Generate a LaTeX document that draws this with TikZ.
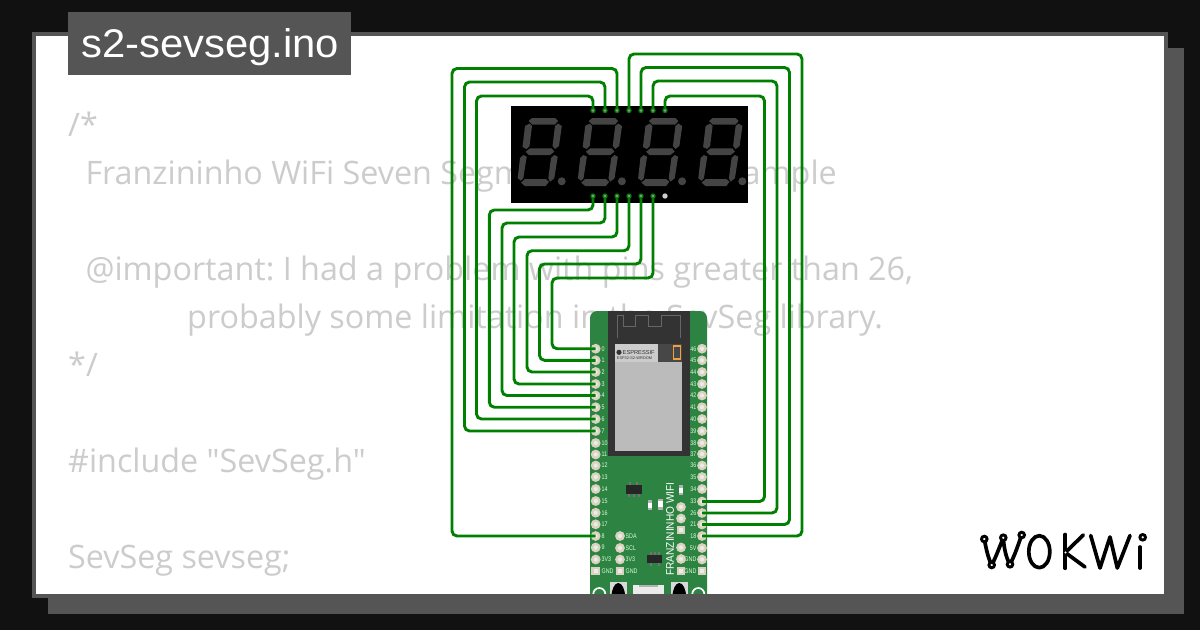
\documentclass[tikz,border=0pt]{standalone}
\usepackage{fontspec}
\setmainfont{Liberation Sans}
\newfontfamily\codefont{Open Sans}
\newfontfamily\titlefont{Liberation Sans}
\definecolor{bgdark}{HTML}{111111}
\definecolor{frameg}{HTML}{555555}
\definecolor{codeg}{HTML}{CCCCCC}
\definecolor{wirec}{HTML}{008000}
\definecolor{boardc}{HTML}{2D8342}
\definecolor{modc}{HTML}{333333}
\definecolor{shieldc}{HTML}{BBBBBB}
\definecolor{segc}{HTML}{444444}
\definecolor{ringc}{HTML}{D8D3BC}
\definecolor{orangec}{HTML}{F0A040}
\tikzset{
  x=1pt,y=-1pt,
  codeline/.style={anchor=base west,inner sep=0pt,text=codeg,font=\codefont\fontsize{32.3}{32}\selectfont\frenchspacing},
  wire/.style={draw=wirec,line width=2.9pt,rounded corners=5pt},
  hole/.style={circle,draw=ringc,line width=2.4pt,fill=white!92!black,minimum size=7.2pt,inner sep=0pt},
  sqhole/.style={rectangle,draw=ringc,line width=2.4pt,fill=white!92!black,minimum size=6.4pt,inner sep=0pt},
  lbl/.style={inner sep=0pt,text=white!85!green,font=\fontsize{6.7}{7}\selectfont},
  dpin/.style={circle,fill=#1,minimum size=5.4pt,inner sep=0pt},
  dpin/.default={wirec},
  pindot/.style={circle,fill=black!42,minimum size=2.8pt,inner sep=0pt},
  logo/.style={draw=black,line width=3.7pt,line cap=round,line join=round},
  lognode/.style={circle,draw=black,line width=2.9pt,fill=white,minimum size=5.6pt,inner sep=0pt},
  leg/.style={draw=black!55,line width=1.7pt},
}
\newcommand\lpin[3]{\node[hole] (#1) at (595.7,#2) {};\node[lbl,anchor=west] (t#1) at (601.4,#2) {\scalebox{0.8}[1]{#3}};}
\newcommand\rpin[3]{\node[hole] (#1) at (702,#2) {};\node[lbl,anchor=east] (t#1) at (696.6,#2) {\scalebox{0.8}[1]{#3}};}
\newcommand\capa[4]{\fill[black!30] (#1,#2) rectangle (#3,#4);\fill[white] (#1,#2+2.5) rectangle (#3,#4-2.5);}
\begin{document}
\begin{tikzpicture}
\useasboundingbox (0,0) rectangle (1200,630);
% background, shadow and frame
\fill[bgdark] (0,0) rectangle (1200,630);
\fill[frameg] (48,48) rectangle (1184,614);
\fill[frameg] (32,32) rectangle (1168,598);
\fill[white] (36,36) rectangle (1164,594);
% code
\node[codeline] (c1) at (68,136) {/*};
\node[codeline] (c2) at (85.3,184) {Franzininho WiFi Seven Segment Display\ \ Example};
\node[codeline] (c3) at (85.3,280) {@important: I had a problem with pins greater than 26,};
\node[codeline] (c4) at (187,328) {probably some limitation in the SevSeg library.};
\node[codeline] (c5) at (68,376) {*/};
\node[codeline] (c6) at (68,472) {\#include "SevSeg.h"};
\node[codeline] (c7) at (68,568) {SevSeg sevseg;};
% title
\fill[frameg] (68,12) rectangle (351,75);
\node[anchor=base west,inner sep=0pt,text=white,font=\titlefont\fontsize{40}{40}\selectfont] (title) at (81,57.5) {\scalebox{1.045}[1]{s2-sevseg.ino}};
% display
\fill[black] (510.5,106) rectangle (748,203);
\foreach \dx in {0,60.2,120.4,180.6}{
 \begin{scope}[shift={(\dx,0)},segc]
  \fill (528.5,121)--(532,118)--(555,118)--(558,121)--(555,124.5)--(532,124.5)--cycle;
  \fill (558,123.5)--(561.8,126)--(559,146)--(555,149)--(552.5,146)--(555,126)--cycle;
  \fill (529.5,123.5)--(532,126)--(529.5,146)--(526.5,149)--(522.5,147)--(525,126)--cycle;
  \fill (525.7,151.7)--(530,148.3)--(551.7,148.3)--(554.3,151.7)--(550,155)--(529,155)--cycle;
  \fill (554.3,155)--(557.7,156.7)--(554.3,178.3)--(550,181.7)--(548.3,178.3)--(551,158)--cycle;
  \fill (523.3,155)--(526.7,156.7)--(523.3,178.3)--(521,180.7)--(517.7,178.3)--(520,158)--cycle;
  \fill (521,182.7)--(525,179)--(545.7,179)--(549,181.7)--(545.7,186)--(525,186)--cycle;
  \fill (561.7,181.3) circle[radius=4];
 \end{scope}
}
\foreach \n/\px in {1/593,2/605,3/617,4/629,5/641,6/653,7/665}{
  \node[dpin] (T\n) at (\px,110.5) {};
}
\foreach \n/\px in {1/593,2/605,3/617,4/629,5/641,6/653}{
  \node[dpin] (B\n) at (\px,196) {};
}
\node[dpin=codeg] (B7) at (665,196) {};
% board
\fill[boardc,rounded corners=7pt] (590,311) rectangle (707,610);
\fill[modc] (608,311) rectangle (690,456);
\draw[black!60,line width=0.9pt,line join=miter] (617,338)--(617,315)--(623.5,315)--(623.5,326)--(635,326)--(635,315)--(648,315)--(648,326)--(661.5,326)--(661.5,315)--(680,315)--(680,338);
\fill[shieldc] (615,344) rectangle (682,451);
\fill[modc!90!white] (658,344) rectangle (682,361.5);
\fill[white!80!black] (615,344) rectangle (658,362);
\draw[orangec,line width=0.8pt] (673.5,346) rectangle (680.5,359);
\fill[orangec] (672.7,344.7) rectangle (681,347);
\fill[orangec] (672.7,357.5) rectangle (681,359.7);
\fill[modc] (619,352.3) circle[radius=2.6];
\node[anchor=west,inner sep=0pt,text=modc,font=\fontsize{5.7}{7}\selectfont] (espname) at (622.5,352.5) {ESPRESSIF};
\node[anchor=west,inner sep=0pt,text=modc,font=\fontsize{3.9}{5}\selectfont] (espmod) at (616.7,358.6) {ESP32-S2-WROOM};
% chips
\foreach \x in {630,637}{\draw[leg] (\x,482) -- (\x,486);}
\foreach \x in {629,634,639}{\draw[leg] (\x,493) -- (\x,497);}
\fill[black!85] (626,485) rectangle (642,494);
\foreach \x in {651,655,659}{\draw[leg] (\x,552) -- (\x,556);}
\foreach \x in {651,659}{\draw[leg] (\x,562) -- (\x,566);}
\fill[black!85] (647,555) rectangle (662,563);
\capa{648}{500}{652.3}{510}
\capa{658.3}{498.5}{663.3}{509.5}
\capa{678.7}{485}{683.3}{495}
\node[rotate=90,inner sep=0pt,text=white,font=\fontsize{11}{11}\selectfont] (brand) at (670,529) {\scalebox{0.92}[1]{FRANZININHO WIFI}};
% left pins
\lpin{L0}{348.7}{0}\lpin{L1}{360.3}{1}\lpin{L2}{372}{2}\lpin{L3}{384}{3}
\lpin{L4}{395.5}{4}\lpin{L5}{407.2}{5}\lpin{L6}{419}{6}\lpin{L7}{431}{7}
\lpin{L10}{443}{10}\lpin{L11}{454.5}{11}\lpin{L12}{465.5}{12}\lpin{L13}{477}{13}
\lpin{L14}{489}{14}\lpin{L15}{501}{15}\lpin{L16}{512.7}{16}\lpin{L17}{524.3}{17}
\lpin{L8}{536}{8}\lpin{L9}{547.5}{9}\lpin{L3V}{559.5}{3V3}
\node[sqhole] (LG) at (595.7,571) {};\node[lbl,anchor=west] (tLG) at (601.4,571) {\scalebox{0.8}[1]{GND}};
% right pins
\rpin{R46}{348.7}{46}\rpin{R45}{360.3}{45}\rpin{R44}{372}{44}\rpin{R43}{384}{43}
\rpin{R42}{395.5}{42}\rpin{R41}{407.2}{41}\rpin{R40}{419}{40}\rpin{R39}{431}{39}
\rpin{R38}{443}{38}\rpin{R37}{454}{37}\rpin{R36}{465.5}{36}\rpin{R35}{477}{35}
\rpin{R34}{489}{34}\rpin{R33}{501.5}{33}\rpin{R26}{513}{26}\rpin{R21}{524.5}{21}
\rpin{R18}{536}{18}\rpin{R5V}{548}{5V}\rpin{RG1}{559.5}{GND}
\node[sqhole] (RG2) at (702,571) {};\node[lbl,anchor=east] (tRG2) at (696.6,571) {\scalebox{0.8}[1]{GND}};
% inner pins
\node[hole] (M1) at (620,536) {};\node[lbl,anchor=west] (tM1) at (625.4,536) {\scalebox{0.8}[1]{SDA}};
\node[hole] (M2) at (620,548) {};\node[lbl,anchor=west] (tM2) at (625.4,548) {\scalebox{0.8}[1]{SCL}};
\node[hole] (M3) at (620,559.5) {};\node[lbl,anchor=west] (tM3) at (625.4,559.5) {\scalebox{0.8}[1]{3V3}};
\node[sqhole] (M4) at (620,571) {};\node[lbl,anchor=west] (tM4) at (625.4,571) {\scalebox{0.8}[1]{GND}};
\node[hole] (N1) at (681,507) {};
\node[hole] (N2) at (681,518.5) {};
\node[sqhole] (N3) at (681,530) {};
\node[hole] (N4) at (681,547.5) {};
\node[hole] (N5) at (681,559) {};
\node[sqhole] (N6) at (681,571) {};
% buttons, usb and mounting holes
\fill[black!15] (610,582) rectangle (626.7,600);
\fill[black] (618.3,597) ellipse[x radius=6.8,y radius=14];
\fill[black!15] (671,582) rectangle (687.7,600);
\fill[black] (679.3,597) ellipse[x radius=6.8,y radius=14];
\fill[black!8] (633,585) rectangle (664,600);
\fill[black!30] (639,585) rectangle (658,587);
\draw[white,line width=1.7pt,fill=boardc] (599.3,594) circle[radius=6];
\draw[white,line width=1.7pt,fill=boardc] (698.3,594) circle[radius=6];
% wires
\draw[wire] (T1.center) |- (476.5,96) |- (L6.center);
\draw[wire] (T2.center) |- (464.5,82) |- (L7.center);
\draw[wire] (T3.center) |- (452,68.5) |- (L8.center);
\draw[wire] (T4.center) |- (802,54) |- (R18.center);
\draw[wire] (T5.center) |- (789.5,67.5) |- (R21.center);
\draw[wire] (T6.center) |- (777,81) |- (R26.center);
\draw[wire] (T7.center) |- (764.5,96) |- (R33.center);
\draw[wire] (B1.center) |- (489.3,210) |- (L5.center);
\draw[wire] (B2.center) |- (502,223) |- (L4.center);
\draw[wire] (B3.center) |- (514,237) |- (L3.center);
\draw[wire] (B4.center) |- (527,250.7) |- (L2.center);
\draw[wire] (B5.center) |- (539.5,264) |- (L1.center);
\draw[wire] (B6.center) |- (552,278) |- (L0.center);
\foreach \n in {1,...,7}{\node[pindot] (TD\n) at (T\n) {};}
\foreach \n in {1,...,6}{\node[pindot] (BD\n) at (B\n) {};}
% frame strip over the board
\fill[frameg] (580,594) rectangle (720,614);
% logo
\draw[logo] (984.3,539) .. controls (986,548) and (988,558) .. (991.7,565) .. controls (996,557) and (999,548) .. (1003.3,538) .. controls (1004,548) and (1006,558) .. (1010,564.3) .. controls (1015,555) and (1018,545) .. (1021.7,535);
\node[lognode] (w1) at (984.3,539) {};
\node[lognode] (w2) at (1003.3,537.7) {};
\node[lognode] (w3) at (1021.7,535) {};
\node[lognode] (w4) at (991.7,565) {};
\node[lognode] (w5) at (1010,564.3) {};
\draw[logo] (1039.3,551.7) ellipse[x radius=10.5,y radius=16];
\draw[logo] (1065.3,534.5) -- (1065.3,568.3);
\draw[logo] (1083.3,535) -- (1065.3,552.5) -- (1085,567);
\fill[white] (1065.5,552.5) circle[radius=1.2];
\draw[logo] (1090.7,535.5) -- (1100,568) -- (1110,537) -- (1117.3,568) -- (1130,535.5);
\draw[logo] (1140,547) -- (1140,568);
\node[lognode] (w6) at (1142.7,537.3) {};
\end{tikzpicture}
\end{document}
